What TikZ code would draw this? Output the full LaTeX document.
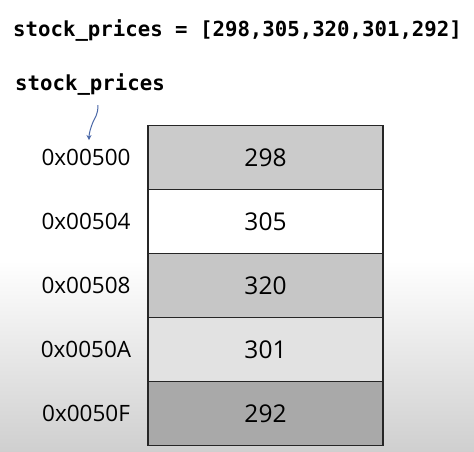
\documentclass[tikz,border=0pt]{standalone}
\usepackage{fontspec}
\setmainfont{Open Sans}
\newfontfamily\codefont{DejaVu Sans Mono}
\usetikzlibrary{positioning}
\definecolor{cellA}{HTML}{CBCBCB}
\definecolor{cellB}{HTML}{FFFFFF}
\definecolor{cellC}{HTML}{C6C6C6}
\definecolor{cellD}{HTML}{E2E2E2}
\definecolor{cellE}{HTML}{A9A9A9}
\definecolor{ptrblue}{HTML}{4A68A8}
\definecolor{bgbottom}{HTML}{CFCFCF}
\tikzset{
	code/.style={font=\codefont\bfseries\fontsize{20.7}{24}\selectfont, inner sep=0pt},
	cell/.style={draw=black!85, line width=1.2pt, minimum width=235pt, minimum height=64pt,
		font=\fontsize{24.5}{28}\selectfont, inner sep=0pt},
	addr/.style={font=\fontsize{22.5}{26}\selectfont, inner sep=0pt},
	ptr/.style={ptrblue, line width=1pt, -{Stealth[length=5pt,width=5pt]}}
}
\usetikzlibrary{arrows.meta}
\begin{document}
\begin{tikzpicture}[x=1pt, y=-1pt]
	\useasboundingbox (0, 0) rectangle (474, 452);
	% screen background
	\fill [white] (0, 0) rectangle (474, 262);
	\shade [top color=white, bottom color=bgbottom] (0, 261) rectangle (474, 452);
	\node [code, anchor=base west] (title) at (13, 37) {stock\_prices = [298,305,320,301,292]};
	\node [code, anchor=base west] (var) at (15, 91) {stock\_prices};
	\foreach \v/\a/\c [count=\i] in {298/0x00500/cellA, 305/0x00504/cellB, 320/0x00508/cellC,
		301/0x0050A/cellD, 292/0x0050F/cellE} {
		\node [cell, fill=\c] (c\i) at (265.5, 93.5 + 64*\i) {\v};
		\node [addr] (a\i) at (86, 93.5 + 64*\i) {\a};
	}
	\draw [ptr] ([xshift=8pt, yshift=-9pt]var.south) .. controls +(0, 10) and +(2, -5) .. (93, 122)
		.. controls +(-2, 5) and +(0, -7) .. ([xshift=3pt, yshift=9pt]a1.north);
\end{tikzpicture}
\end{document}
